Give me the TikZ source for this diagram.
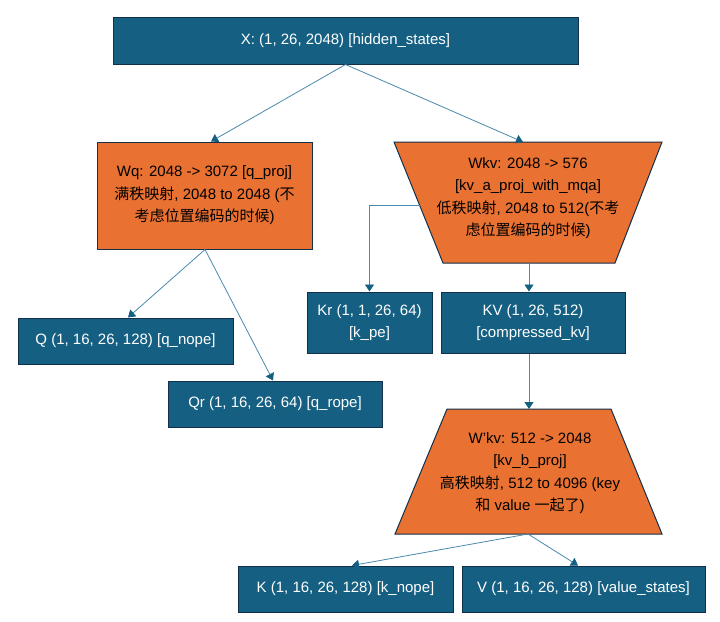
\documentclass[tikz,border=0pt]{standalone}
\usepackage{fontspec}
\setmainfont{Liberation Sans}
\newfontfamily\cjk{Noto Sans CJK SC}
\usetikzlibrary{arrows.meta,calc}
\newcommand\zh[1]{{\cjk #1}}
\definecolor{boxblue}{HTML}{156082}
\definecolor{boxorange}{HTML}{E97132}
\definecolor{bordc}{HTML}{13304A}
\definecolor{linec}{HTML}{4A8AAE}
\definecolor{tipc}{HTML}{156082}
\tikzset{
  lbl/.style={font=\fontsize{15}{22.5}\selectfont, align=center, inner sep=0pt},
  bluebox/.style={lbl, draw=bordc, line width=1pt, fill=boxblue, text=white},
  orangebox/.style={lbl, draw=bordc, line width=1pt, fill=boxorange, text=black},
  trap/.style={draw=bordc, line width=1pt, fill=boxorange},
  conn/.style={draw=linec, line width=0.8pt, -{Triangle[length=7pt,width=9pt,color=tipc]}},
}
\begin{document}
\begin{tikzpicture}[x=1pt,y=-1pt]
\useasboundingbox (0,0) rectangle (720,621);
\fill[white] (0,0) rectangle (720,621);

% boxes
\node[bluebox, minimum width=465, minimum height=47] (X) at (345.5,40.5) {X: (1, 26, 2048) [hidden\_states]};
\node[orangebox, minimum width=215, minimum height=107] (wq) at (204.5,195.5)
  {Wq: 2048 -> 3072 [q\_proj]\\ \zh{满秩映射}, 2048 to 2048 (\zh{不}\\ \zh{考虑位置编码的时候})};
\node[bluebox, minimum width=125, minimum height=61] (kr) at (369.5,322.5) {Kr (1, 1, 26, 64)\\ {[}k\_pe{]}};
\node[bluebox, minimum width=184, minimum height=61] (kv) at (533,322.5) {KV (1, 26, 512)\\ {[}compressed\_kv{]}};
\node[bluebox, minimum width=215, minimum height=46] (q) at (125.5,341) {Q (1, 16, 26, 128) [q\_nope]};
\node[bluebox, minimum width=214, minimum height=46] (qr) at (275,404) {Qr (1, 16, 26, 64) [q\_rope]};
\node[bluebox, minimum width=215, minimum height=46] (k) at (345.5,589) {K (1, 16, 26, 128) [k\_nope]};
\node[bluebox, minimum width=243, minimum height=46] (v) at (583.5,589) {V (1, 16, 26, 128) [value\_states]};

% Wkv trapezoid
\path[trap] (394,142) -- (662,142) -- (615,263) -- (443,263) -- cycle;
\node[lbl] (wkv) at (528,198) {Wkv: 2048 -> 576\\ {[}kv\_a\_proj\_with\_mqa{]}\\ \zh{低秩映射}, 2048 to 512(\zh{不考}\\ \zh{虑位置编码的时候})};
\coordinate (wkvT) at (523,142);
\coordinate (wkvL) at (419.5,205);
\coordinate (wkvB) at (529,263);

% W'kv trapezoid
\path[trap] (447,409) -- (611,409) -- (662,534) -- (395,534) -- cycle;
\node[lbl] (wpkv) at (530,473) {W’kv: 512 -> 2048\\ {[}kv\_b\_proj{]}\\ \zh{高秩映射}, 512 to 4096 (key\\ \zh{和} value \zh{一起了})};
\coordinate (wpkvT) at (529,409);
\coordinate (wpkvB) at (528,534);

% connectors
\draw[conn] (X.south) -- ([xshift=6.5]wq.north);
\draw[conn] (X.south) -- (wkvT);
\draw[conn] ([xshift=0.5]wq.south) -- ([xshift=2.5]q.north);
\draw[conn] ([xshift=0.5]wq.south) -- ([xshift=-2]qr.north);
\draw[conn] (wkvL) -- (wkvL -| kr.north) -- (kr.north);
\draw[conn] (wkvB) -- (wkvB |- kv.north);
\draw[conn] (kv.south -| wpkvT) -- (wpkvT);
\draw[conn] (wpkvB) -- ([xshift=6.5]k.north);
\draw[conn] (wpkvB) -- ([xshift=-5.5]v.north);
\end{tikzpicture}
\end{document}
